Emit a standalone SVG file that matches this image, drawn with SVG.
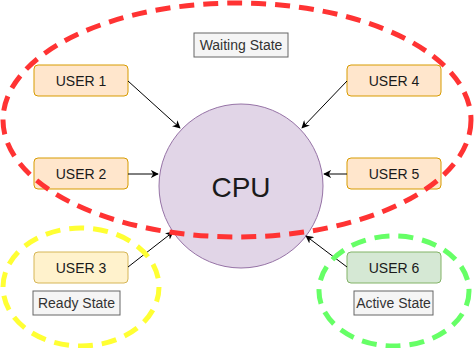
<svg xmlns="http://www.w3.org/2000/svg" width="474" height="348" viewBox="0 0 474 348">
<defs>
<style>
text{font-family:"Liberation Sans",Arial,sans-serif;font-size:14px;text-anchor:middle;dominant-baseline:central;fill:#1a1a1a}
.user{fill:#ffe6cc;stroke:#d79b00;stroke-width:1}
.ready{fill:#fff2cc;stroke:#d6b656;stroke-width:1}
.active{fill:#d5e8d4;stroke:#82b366;stroke-width:1}
.lbl{fill:#f5f5f5;stroke:#666666;stroke-width:1}
.lbltext{fill:#333333}
.conn{stroke:#000;stroke-width:1;fill:none;marker-end:url(#arr)}
.zone{fill:none;stroke-width:5;stroke-dasharray:15 9}
</style>
<marker id="arr" viewBox="0 0 10 10" refX="9" refY="5" markerWidth="8" markerHeight="8" orient="auto" markerUnits="userSpaceOnUse">
<path d="M0,0 L10,5 L0,10 L3,5 Z" fill="#000"/>
</marker>
</defs>
<rect width="474" height="348" fill="#ffffff"/>
<g id="cpu">
<circle cx="241" cy="186" r="82" fill="#e1d5e7" stroke="#9673a6" stroke-width="1"/>
<text x="241" y="187" style="font-size:28px">CPU</text>
</g>
<g id="user1"><rect class="user" x="34" y="65" width="94" height="31" rx="4"/><text x="81" y="81">USER 1</text></g>
<g id="user2"><rect class="user" x="34" y="158" width="94" height="31" rx="4"/><text x="81" y="174">USER 2</text></g>
<g id="user3"><rect class="ready" x="34" y="252" width="94" height="31" rx="4"/><text x="81" y="268">USER 3</text></g>
<g id="user4"><rect class="user" x="347" y="65" width="94" height="31" rx="4"/><text x="394" y="81">USER 4</text></g>
<g id="user5"><rect class="user" x="347" y="158" width="94" height="31" rx="4"/><text x="394" y="174">USER 5</text></g>
<g id="user6"><rect class="active" x="347" y="252" width="94" height="31" rx="4"/><text x="394" y="268">USER 6</text></g>
<g id="waiting-label"><rect class="lbl" x="194" y="33" width="94" height="24"/><text class="lbltext" x="241" y="45">Waiting State</text></g>
<g id="ready-label"><rect class="lbl" x="33" y="291" width="87" height="24"/><text class="lbltext" x="76.5" y="303">Ready State</text></g>
<g id="active-label"><rect class="lbl" x="354" y="291" width="79" height="24"/><text class="lbltext" x="393.5" y="303">Active State</text></g>
<g id="connectors">
<line class="conn" x1="128" y1="81" x2="180" y2="128"/>
<line class="conn" x1="347" y1="81" x2="302" y2="128"/>
<line class="conn" x1="128" y1="174" x2="158" y2="174"/>
<line class="conn" x1="347" y1="174" x2="324" y2="174"/>
<line class="conn" x1="128" y1="267" x2="173" y2="232"/>
<line class="conn" x1="347" y1="267" x2="306" y2="236"/>
</g>
<g id="zones">
<ellipse id="waiting-zone" class="zone" cx="237" cy="120" rx="234" ry="117" stroke="#ff3333"/>
<ellipse id="ready-zone" class="zone" cx="81" cy="287" rx="78" ry="59" stroke="#ffff33"/>
<ellipse id="active-zone" class="zone" cx="394" cy="291" rx="75" ry="55" stroke="#66ff66"/>
</g>
</svg>
